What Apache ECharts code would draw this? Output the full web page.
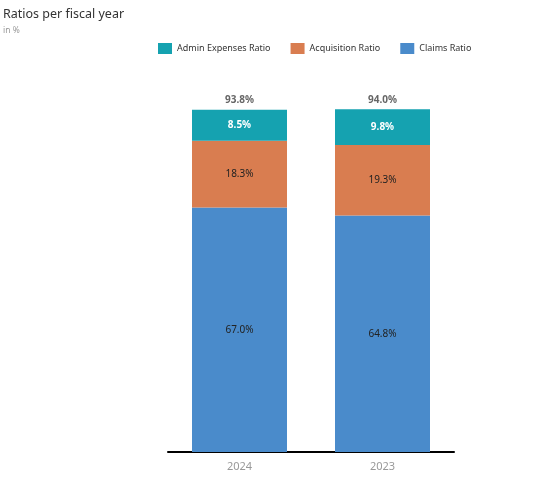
<!DOCTYPE html>
<html>
<head>
<meta charset="utf-8">
<script src="https://cdn.jsdelivr.net/npm/echarts@6/dist/echarts.min.js"></script>
<style>
html, body { margin:0; padding:0; background:#fff; }
#view1 { width:533px; height:479px; }
</style>
</head>
<body>
<div id="view1"></div>
<script>
"use strict";
var years = ['2024', '2023'];
var claims = [67.0, 64.8];
var acquisition = [18.3, 19.3];
var admin = [8.5, 9.8];
var totals = [93.8, 94.0];

var font = '"Noto Sans", "Open Sans", sans-serif';
function pct(v){ return v.toFixed(1) + '%'; }

var option = {
	animation: false,
	textStyle: { fontFamily: font },
	title: {
		text: 'Ratios per fiscal year', subtext: 'in %', left: -2, top: 3, itemGap: 5,
		textStyle: { fontSize: 12.5, fontWeight: 'normal', color: '#333', fontFamily: font },
		subtextStyle: { fontSize: 8.5, color: '#999', fontFamily: font }
	},
	legend: {
		data: ['Admin Expenses Ratio', 'Acquisition Ratio', 'Claims Ratio'],
		left: 153, top: 38, itemWidth: 14, itemHeight: 11, itemGap: 20,
		icon: 'rect',
		textStyle: { fontSize: 9, color: '#333', fontFamily: font }
	},
	grid: { left: 168, right: 79, top: 87, bottom: 27 },
	xAxis: [{
		type: 'category', data: years,
		axisLine: { show: true, lineStyle: { color: '#000', width: 2 } },
		axisTick: { show: false },
		axisLabel: { color: '#999', fontSize: 11, margin: 9 }
	}],
	yAxis: [{ type: 'value', min: 0, max: 100, show: false, splitLine: { show: false } }],
	series: [
		{
			name: 'Claims Ratio', type: 'bar', stack: 'r', barWidth: 95, data: claims,
			itemStyle: { color: '#4a8bcb' },
			label: { show: true, position: 'inside', color: '#222', fontSize: 10, formatter: function(p){ return pct(p.value); } }
		},
		{
			name: 'Acquisition Ratio', type: 'bar', stack: 'r', data: acquisition,
			itemStyle: { color: '#d97d50' },
			label: { show: true, position: 'inside', color: '#222', fontSize: 10, formatter: function(p){ return pct(p.value); } }
		},
		{
			name: 'Admin Expenses Ratio', type: 'bar', stack: 'r', data: admin,
			itemStyle: { color: '#15a2b0' },
			label: { show: true, position: 'inside', color: '#fff', fontWeight: 'bold', fontSize: 10, formatter: function(p){ return pct(p.value); } }
		},
		{
			name: 'Total', type: 'bar', stack: 'r', data: years.map(function(){ return 0; }),
			itemStyle: { color: 'transparent' },
			label: { show: true, position: 'top', distance: 4, color: '#666', fontWeight: 'bold', fontSize: 10,
				formatter: function(p){ return pct(totals[p.dataIndex]); } }
		}
	]
};

var myChart = echarts.init(document.getElementById('view1'));
myChart.setOption(option);
</script>
</body>
</html>
